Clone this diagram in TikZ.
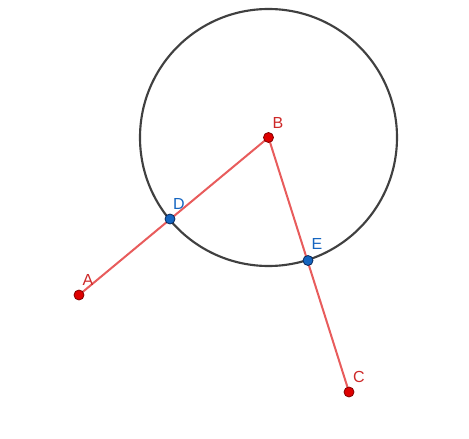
\documentclass[tikz,border=0pt]{standalone}
\usepackage{fontspec}
\setmainfont{Liberation Sans}
\definecolor{segred}{RGB}{232,92,92}
\definecolor{ptred}{RGB}{222,0,0}
\definecolor{ptredd}{RGB}{130,0,0}
\definecolor{ptblue}{RGB}{21,101,192}
\definecolor{ptblued}{RGB}{10,40,90}
\definecolor{labred}{RGB}{205,40,40}
\definecolor{circgray}{RGB}{64,64,64}
\begin{document}
\begin{tikzpicture}[x=0.75pt,y=-0.75pt,
  redpt/.style={circle,fill=ptred,draw=ptredd,line width=0.6pt,inner sep=0pt,minimum size=7.5pt},
  bluept/.style={circle,fill=ptblue,draw=ptblued,line width=0.6pt,inner sep=0pt,minimum size=7.5pt},
  seg/.style={segred,line width=1.5pt},
  redlab/.style={text=labred,font=\fontsize{12}{12}\selectfont},
  bluelab/.style={text=ptblue,font=\fontsize{12}{12}\selectfont}]
\useasboundingbox (0,0) rectangle (469,439);
\draw[circgray,line width=1.6pt] (268.5,137.5) circle[radius=128.5];
\coordinate (pA) at (79,295);
\coordinate (pB) at (268.5,137.5);
\coordinate (pC) at (349,392);
\draw[seg] (pA) -- (pB);
\draw[seg] (pB) -- (pC);
\node[redpt] (A) at (pA) {};
\node[redpt] (B) at (pB) {};
\node[redpt] (C) at (pC) {};
\node[bluept] (D) at (170,219) {};
\node[bluept] (E) at (308,260.5) {};
\node[redlab] (lA) at (88,280) {A};
\node[redlab] (lB) at (278,123) {B};
\node[redlab] (lC) at (359,377) {C};
\node[bluelab] (lD) at (179,204) {D};
\node[bluelab] (lE) at (317,244) {E};
\end{tikzpicture}
\end{document}
